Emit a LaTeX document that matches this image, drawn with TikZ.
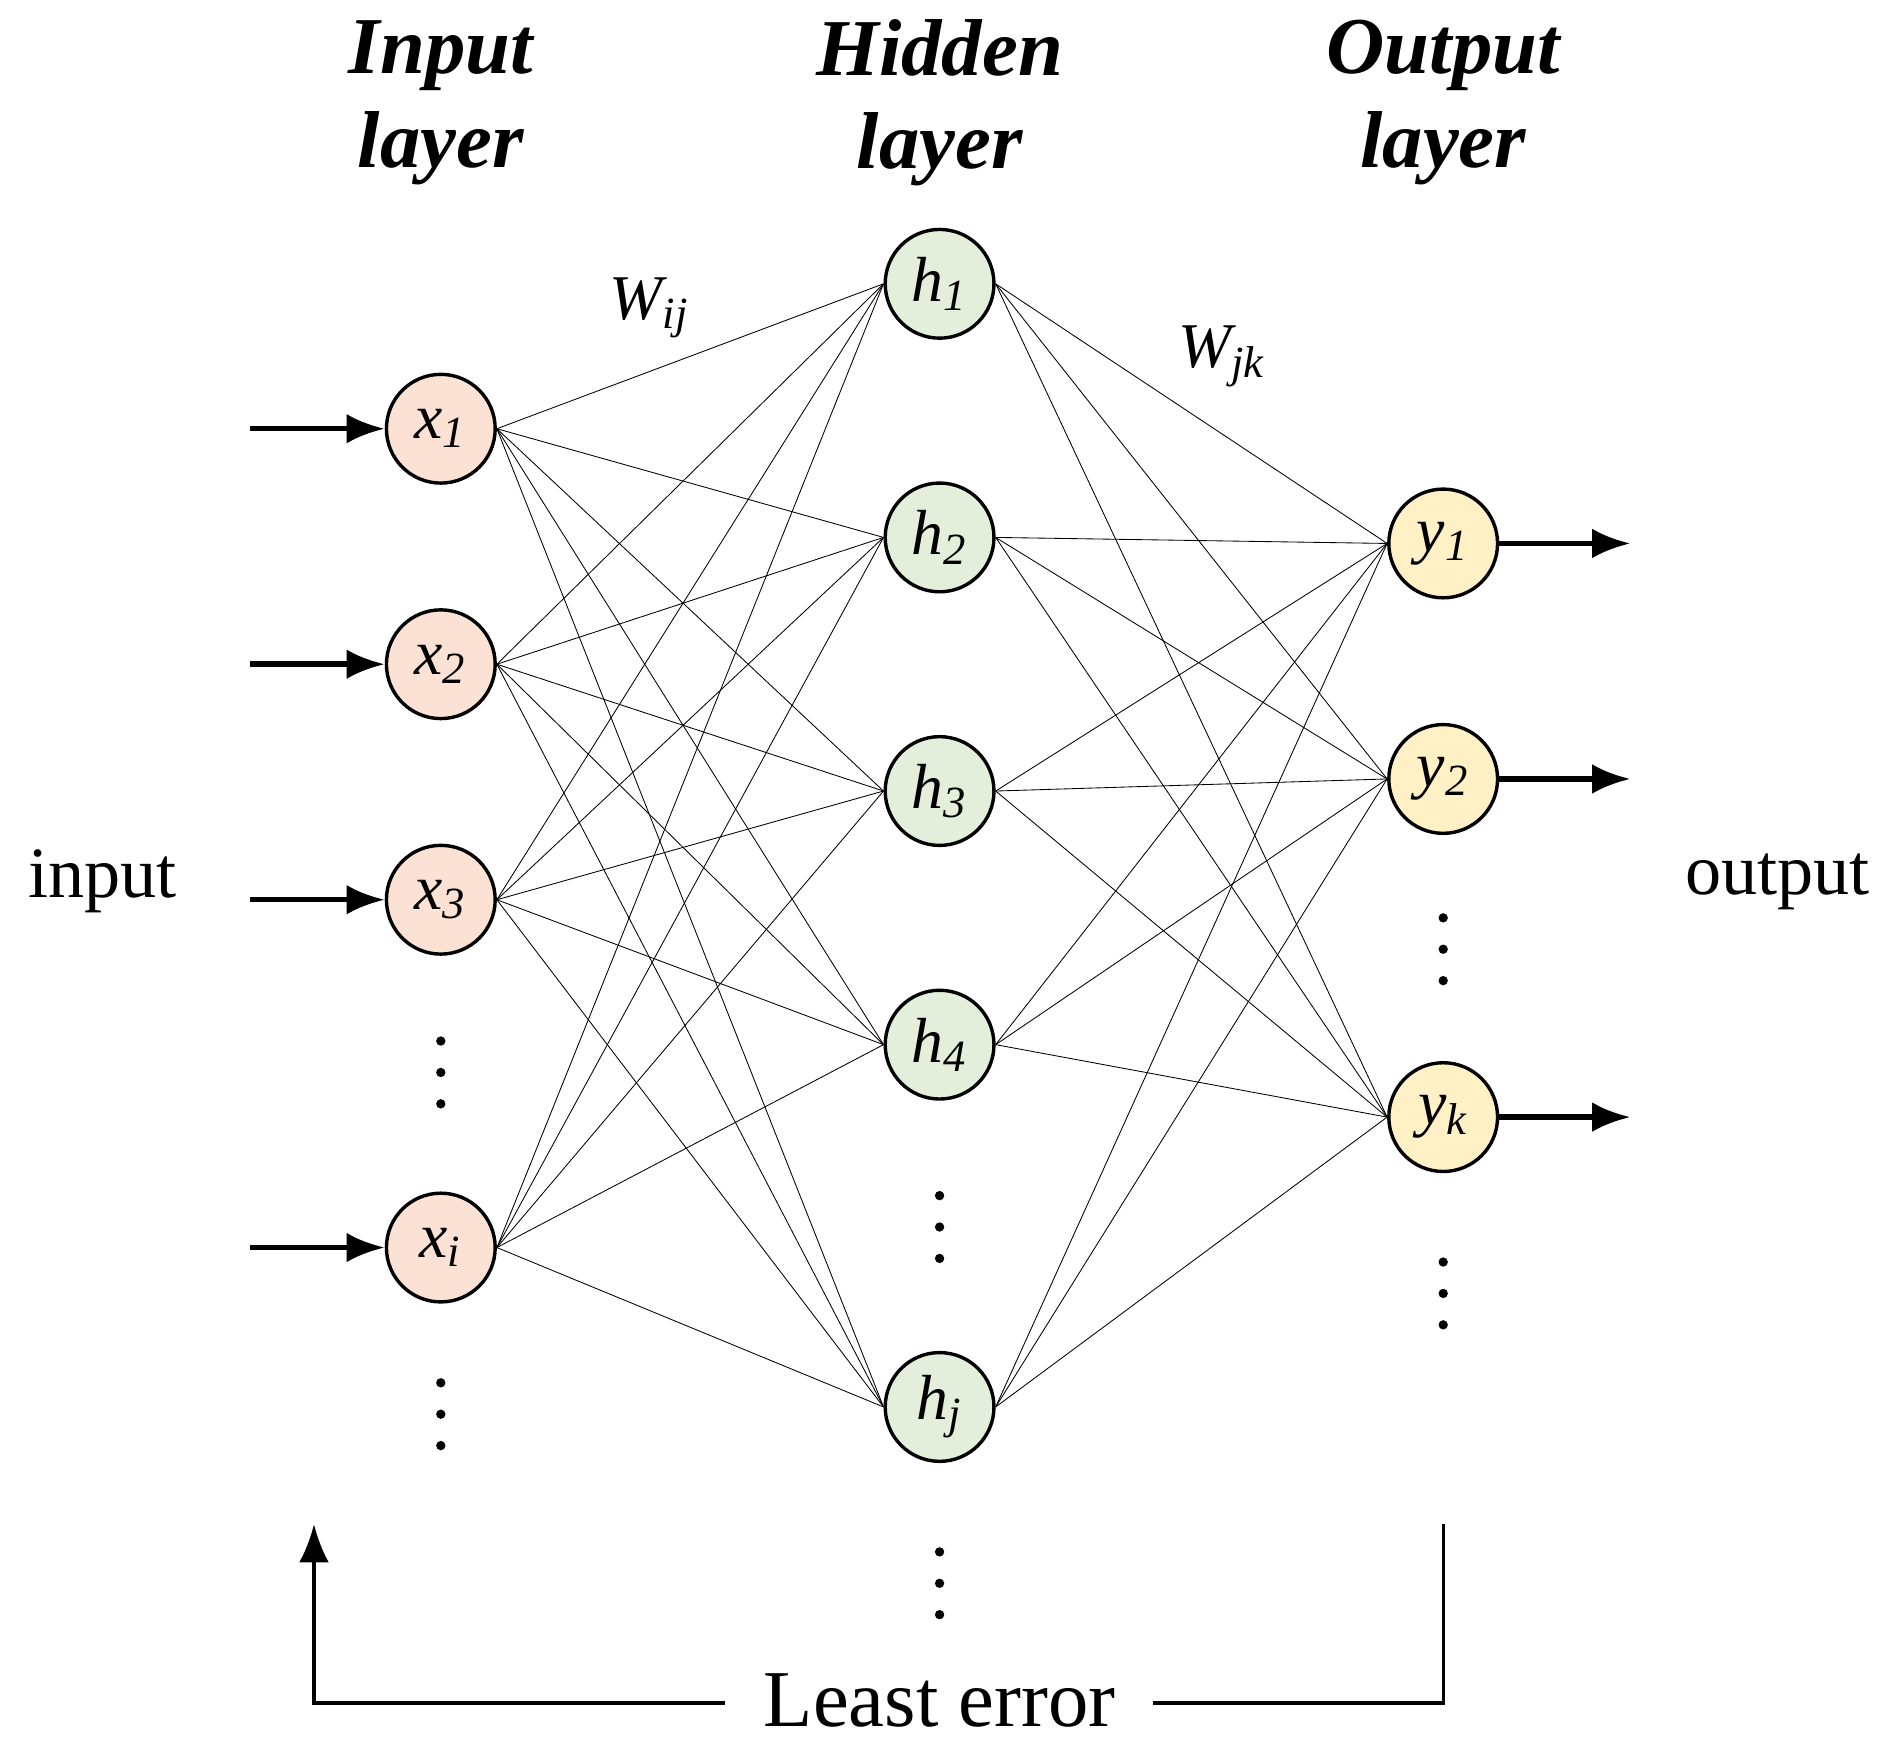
\documentclass[tikz,border=0pt]{standalone}
\usepackage{fontspec}
\setmainfont{Liberation Serif}
\usetikzlibrary{arrows.meta}
\definecolor{inFill}{HTML}{FBE2D5}
\definecolor{hidFill}{HTML}{E3EFDA}
\definecolor{outFill}{HTML}{FFF0C5}
\begin{document}
\begin{tikzpicture}[x=0.01cm,y=-0.01cm,
  neuron/.style={circle,draw,thick,minimum size=0.9cm,inner sep=0pt,font=\fontsize{15}{15}\selectfont\itshape},
  innode/.style={neuron,fill=inFill},
  hidnode/.style={neuron,fill=hidFill},
  outnode/.style={neuron,fill=outFill},
  title/.style={font=\fontsize{19}{22}\selectfont\bfseries\itshape,align=center},
  dot/.style={circle,fill,inner sep=0pt,minimum size=2.2pt},
  io/.style={-{Latex[length=9pt,width=7pt]},line width=1.3pt}]
\useasboundingbox (0,0) rectangle (1560,1449);
% layer titles
\node[title] (tin) at (365,85) {Input\\layer};
\node[title] (thid) at (778,85) {Hidden\\layer};
\node[title] (tout) at (1195,85) {Output\\layer};
% input layer
\node[innode] (x1) at (365,355) {x\textsubscript{1}};
\node[innode] (x2) at (365,550) {x\textsubscript{2}};
\node[innode] (x3) at (365,745) {x\textsubscript{3}};
\node[innode] (xi) at (365,1033) {x\textsubscript{i}};
% hidden layer
\node[hidnode] (h1) at (778,235) {h\textsubscript{1}};
\node[hidnode] (h2) at (778,445) {h\textsubscript{2}};
\node[hidnode] (h3) at (778,655) {h\textsubscript{3}};
\node[hidnode] (h4) at (778,865) {h\textsubscript{4}};
\node[hidnode] (hj) at (778,1165) {h\textsubscript{j}};
% output layer
\node[outnode] (y1) at (1195,450) {y\textsubscript{1}};
\node[outnode] (y2) at (1195,645) {y\textsubscript{2}};
\node[outnode] (yk) at (1195,925) {y\textsubscript{k}};
% dots
\foreach \px/\py in {365/862, 778/990, 1195/760, 365/1145, 778/1285, 1195/1045}
  \foreach \k in {0,1,2}
    \node[dot] at (\px,\py+26*\k) {};
% weights
\foreach \a in {x1,x2,x3,xi}
  \foreach \b in {h1,h2,h3,h4,hj}
    \draw[very thin] (\a.east) -- (\b.west);
\foreach \a in {h1,h2,h3,h4,hj}
  \foreach \b in {y1,y2,yk}
    \draw[very thin] (\a.east) -- (\b.west);
\node[font=\fontsize{15}{15}\selectfont\itshape] (wij) at (538,255) {W\textsubscript{ij}};
\node[font=\fontsize{15}{15}\selectfont\itshape] (wjk) at (1012,295) {W\textsubscript{jk}};
% inputs and outputs
\foreach \n/\py in {x1/355,x2/550,x3/745,xi/1033} {
  \coordinate (s\n) at (207,\py);
  \draw[io] (s\n) -- (\n);
}
\foreach \n/\py in {y1/450,y2/645,yk/925} {
  \coordinate (e\n) at (1350,\py);
  \draw[io] (\n) -- (e\n);
}
\node[font=\fontsize{17}{17}\selectfont] (inp) at (85,730) {input};
\node[font=\fontsize{17}{17}\selectfont] (outp) at (1472,730) {output};
% feedback
\node[font=\fontsize{19}{19}\selectfont] (err) at (778,1408) {Least error};
\coordinate (fr) at (1195,1262);
\coordinate (fl) at (260,1262);
\coordinate (er) at (955,1410);
\coordinate (el) at (600,1410);
\draw[thick] (fr) |- (er);
\draw[thick,-{Latex[length=9pt,width=7pt]}] (el) -| (fl);
\end{tikzpicture}
\end{document}
